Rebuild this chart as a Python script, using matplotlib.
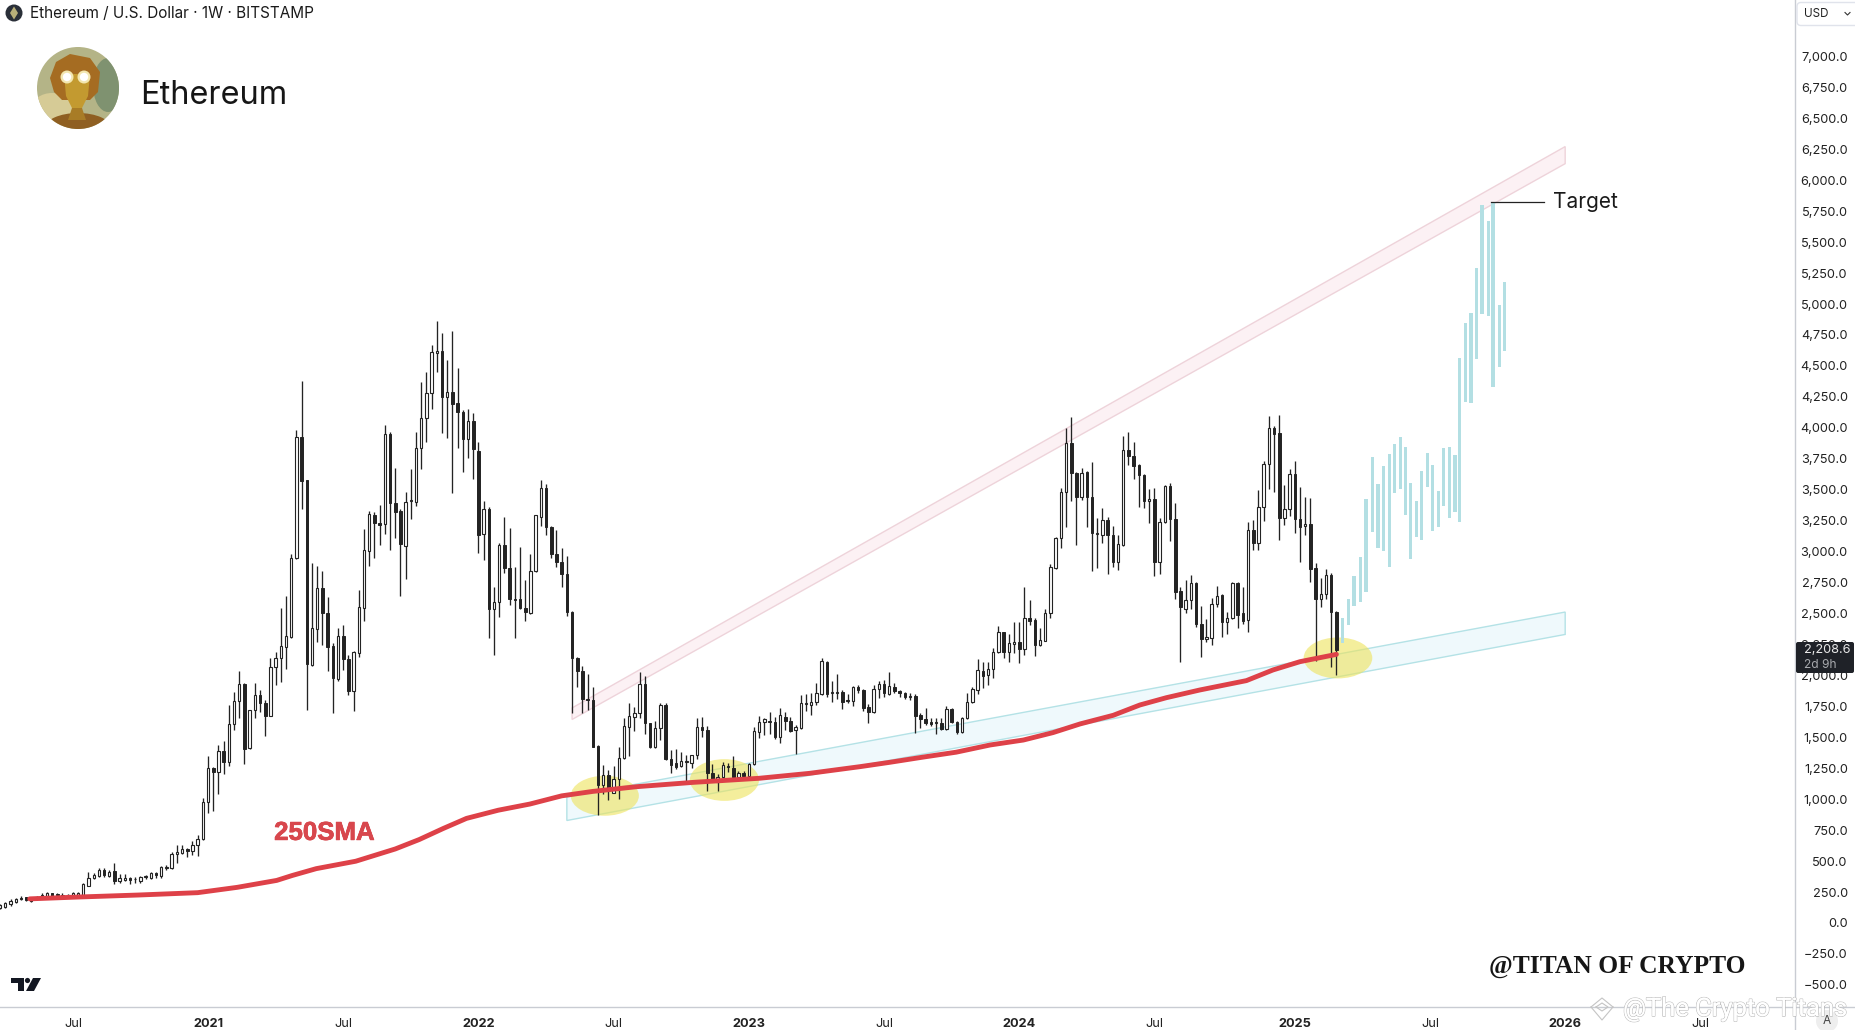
import matplotlib
matplotlib.use("Agg")
import matplotlib.pyplot as plt
import matplotlib.patheffects as pe
from matplotlib.patches import Circle, Ellipse, Polygon, FancyBboxPatch

plt.rcParams['font.family'] = ['Inter', 'DejaVu Sans']

# ---------- data: weekly candles, week 0 = first week of January 2021 ----------
first_week = -40
candle_open = [125,132,151,170,190,207,175,200,213,221,240,232,226,213,218,224,226,302,361,382,
 428,382,420,342,350,364,353,342,374,366,401,382,445,442,555,568,595,578,627,675,
 974,1249,1222,1386,1303,1604,1793,1930,1416,1720,1841,1774,1674,2065,2137,2232,2312,2945,3923,3578,
 2083,2372,2703,2501,2240,1970,2318,2129,1876,2178,2547,3007,3295,3233,3220,3950,3390,3328,3048,3410,
 3404,3834,4082,4284,4607,4623,4252,4292,4198,4128,3910,4058,3816,3140,3344,2536,2596,3053,2865,2617,
 2614,2542,2507,2846,3282,3511,3196,2978,2913,2819,2515,2138,2036,1809,1801,1430,1115,1195,1053,1160,
 1330,1586,1667,1694,1931,1613,1419,1572,1761,1322,1290,1268,1303,1295,1354,1580,1559,1209,1141,1182,
 1271,1255,1176,1209,1190,1284,1545,1626,1634,1624,1500,1667,1634,1559,1572,1769,1761,1788,1850,2111,
 1860,1860,1863,1796,1796,1909,1882,1742,1707,1890,1928,1850,1909,1877,1855,1828,1834,1680,1645,1626,
 1618,1613,1567,1726,1626,1543,1653,1782,1882,2038,2003,2054,2186,2348,2186,2251,2273,2211,2461,2448,
 2246,2281,2501,2865,3107,3479,3875,3633,3444,3641,3444,3140,3134,3255,3134,2919,3054,3821,3773,3700,
 3619,3406,3425,2919,3237,3530,3261,2682,2536,2609,2744,2415,2291,2299,2577,2647,2429,2461,2744,2501,
 2448,3175,3067,3358,3705,4001,3956,3269,3344,3627,3261,3207,3220,2865,2617,2655,2811,2512]
candle_high = [150,172,191,202,218,213,210,215,245,253,245,245,240,232,253,253,326,409,407,442,
 442,428,487,393,393,374,369,380,390,415,415,463,471,574,627,627,604,665,710,1007,
 1349,1262,1437,1472,1761,1865,2034,1936,1722,1936,1882,1801,2143,2191,2541,2641,2980,3982,4380,3580,
 2905,2883,2843,2630,2259,2380,2407,2164,2199,2689,3182,3328,3322,3376,4022,3969,3678,3341,3484,3670,
 3964,4370,4454,4669,4863,4764,4548,4782,4481,4144,4152,4117,3888,3409,3363,2717,3067,3277,3188,2878,
 3035,2771,2981,3296,3579,3544,3210,3175,3027,2965,2520,2145,2076,2011,1909,1435,1276,1236,1268,1419,
 1653,1780,1747,2025,1998,1618,1634,1780,1775,1397,1403,1379,1357,1357,1653,1667,1591,1284,1203,1303,
 1290,1349,1230,1228,1290,1580,1672,1653,1702,1667,1734,1702,1667,1599,1842,1847,1855,1936,2138,2116,
 1955,2009,1882,1850,1914,1923,1888,1769,1923,1957,1963,2025,1936,1882,1869,1861,1847,1694,1734,1653,
 1653,1653,1755,1734,1634,1660,1855,1909,2130,2111,2111,2219,2399,2352,2334,2434,2434,2712,2609,2462,
 2380,2534,2897,3121,3511,4001,4090,3645,3673,3650,3721,3269,3350,3277,3210,3134,3934,3964,3888,3708,
 3627,3503,3511,3269,3538,3552,3390,2717,2771,2811,2752,2563,2456,2623,2722,2655,2515,2752,2757,2717,
 3242,3256,3498,3735,4096,4015,4104,3538,3665,3735,3519,3439,3436,2911,2784,2857,2825,2520]
candle_low = [115,118,140,159,183,180,170,195,199,207,207,207,207,207,207,212,213,295,353,369,
 374,369,312,326,342,312,326,326,358,358,366,366,428,436,482,555,530,549,544,670,
 885,907,1039,1203,1271,1560,1653,1284,1408,1653,1706,1513,1672,1925,1949,2051,2299,2940,3341,1720,
 2078,2272,2245,2035,1693,1954,2043,1841,1715,2151,2442,2886,2945,3053,3142,3013,3112,2644,2778,3265,
 3371,3667,3888,4149,4454,3956,3915,3471,3834,3640,3754,3587,2986,2932,2299,2165,2474,2830,2569,2299,
 2538,2439,2500,2833,3210,3134,2946,2878,2717,2483,1694,1904,1699,1720,1420,872,1039,993,1047,1001,
 1325,1349,1554,1653,1524,1415,1412,1478,1317,1214,1241,1257,1150,1249,1322,1500,1069,1141,1069,1168,
 1222,1168,1155,1176,1183,1278,1497,1519,1524,1484,1457,1559,1540,1365,1567,1715,1680,1761,1842,1823,
 1788,1807,1729,1774,1755,1855,1712,1618,1699,1815,1828,1842,1861,1828,1809,1801,1537,1578,1599,1594,
 1527,1559,1559,1613,1524,1538,1648,1774,1850,1901,1923,1976,2178,2143,2111,2178,2098,2165,2407,2159,
 2238,2275,2466,2857,3032,3202,3412,3054,3417,3202,2846,2865,3067,2817,2878,2852,3048,3700,3584,3363,
 3350,3229,2806,2819,3230,3089,2617,2106,2501,2534,2394,2146,2267,2246,2550,2307,2332,2453,2380,2415,
 2353,3013,3013,3250,3503,3484,3094,3215,3291,3153,2919,3134,2752,2116,2550,2617,2071,2000]
candle_close = [142,159,178,191,205,186,200,210,229,245,218,223,218,226,240,240,312,361,388,428,
 388,415,342,361,361,347,358,369,380,406,385,455,450,557,574,598,582,627,675,974,
 1249,1222,1386,1303,1607,1793,1930,1408,1720,1841,1774,1674,2065,2137,2237,2318,2951,3923,3573,2089,
 2380,2703,2501,2232,1976,2318,2129,1876,2186,2549,3013,3301,3233,3217,3950,3395,3317,3058,3403,3417,
 3834,4077,4279,4610,4623,4252,4292,4190,4128,3910,4055,3829,3134,3342,2536,2590,3053,2865,2614,2612,
 2542,2510,2846,3296,3511,3196,2978,2913,2816,2515,2138,2038,1809,1804,1424,1115,1195,1088,1160,1330,
 1591,1672,1694,1931,1613,1419,1572,1761,1322,1276,1263,1311,1311,1354,1580,1559,1214,1163,1182,1276,
 1263,1176,1214,1190,1284,1553,1626,1645,1624,1500,1680,1634,1554,1580,1774,1774,1788,1855,2119,1850,
 1863,1863,1788,1801,1904,1882,1734,1707,1890,1928,1855,1914,1874,1855,1823,1834,1675,1648,1618,1605,
 1621,1567,1726,1621,1540,1653,1788,1887,2044,1998,2054,2186,2348,2186,2259,2273,2211,2461,2442,2246,
 2286,2501,2878,3107,3479,3875,3633,3444,3638,3444,3148,3148,3255,3134,2919,3062,3821,3773,3694,3619,
 3412,3425,2919,3237,3530,3261,2677,2550,2609,2744,2415,2291,2307,2577,2644,2429,2461,2744,2488,2442,
 3175,3067,3358,3708,3996,3948,3269,3344,3627,3261,3202,3223,2860,2617,2655,2811,2510,2208]

# projected bars drawn in light blue
proj_weeks = [218.1,219.3,220.4,221.6,222.7,223.9,225.0,226.0,227.2,228.1,229.3,230.3,231.2,232.4,233.4,
 234.5,235.5,236.7,237.6,238.8,239.8,240.7,241.9,242.9,244.0,245.0,246.2,247.1,248.3,249.3]
proj_high = [2464,2614,2802,2953,3422,3761,3546,3691,3785,3866,3923,3842,3557,3408,3651,
 3794,3697,3487,3834,3847,3780,4561,4844,4925,5288,5800,5671,5819,4992,5180]
proj_low = [2262,2407,2563,2595,2676,3155,3026,3007,2878,3470,3505,3295,2940,3115,3093,
 3524,3166,3201,3371,3274,3322,3236,4211,4197,4556,4919,4906,4332,4494,4620]

# 250-week simple moving average
sma_weeks = [-34.3,-24.8,-13.4,-2,5.6,13.2,16.2,20.8,28.4,36,40.6,45.2,49.7,55.8,61.9,68,74,82.4,93.3,
 106,115.7,125.4,131.1,137.5,143.9,150.4,156.8,162.5,167.7,174.1,179.2,184.3,190.7,199.7,204.8,210,217]
sma_values = [195,210,226,245,288,344,384,439,499,598,674,763,845,911,961,1027,1063,1101,1136,
 1169,1209,1263,1298,1340,1380,1438,1478,1538,1608,1678,1761,1820,1882,1958,2044,2111,2170]

# drawn channels (week, price) corners
resist_weeks = [70, 261, 261, 70]
resist_prices = [1737, 6272, 6134, 1644]
support_weeks = [69, 261, 261, 69]
support_prices = [1018, 2512, 2331, 828]

# highlighted touches
zone_weeks = [76.3, 99.3, 217.3]
zone_prices = [1028, 1155, 2141]
zone_w = [13.1, 13.3, 13.2]
zone_h = [323, 337, 331]

target_weeks = [246.8, 256.9]
target_price = 5827

price_ticks = list(range(-500, 7001, 250))
time_ticks = [-26, 0, 26, 52, 78, 104, 130, 156, 182, 209, 235, 261, 287]
time_labels = ['Jul', '2021', 'Jul', '2022', 'Jul', '2023', 'Jul', '2024', 'Jul', '2025', 'Jul', '2026', 'Jul']

last_price = '2,208.6'
countdown = '2d 9h'

# ---------- figure ----------
W, H = 1855, 1030
fig = plt.figure(figsize=(W / 100, H / 100), dpi=100, facecolor='white')
ax = fig.add_axes([0, (H - 1007) / H, 1795 / W, 1007 / H])
ax.set_xlim(-40.02, 305.2)
ax.set_ylim(-678.6, 7456)
for s in ax.spines.values():
    s.set_visible(False)

ax.fill(resist_weeks, resist_prices, facecolor='#fcf1f4', edgecolor='#eed3da', lw=1.0, zorder=1)
ax.fill(support_weeks, support_prices, facecolor='#eff9fc', edgecolor='#b4e2e6', lw=1.0, zorder=1)

for x, y, w, h in zip(zone_weeks, zone_prices, zone_w, zone_h):
    ax.add_patch(Ellipse((x, y), w, h, facecolor='#eee35a', alpha=0.6, edgecolor='none', zorder=2))

ax.bar(proj_weeks, [h - l for h, l in zip(proj_high, proj_low)], bottom=proj_low,
       width=0.62, color='#b3dfe3', linewidth=0, zorder=2.5)

weeks = [first_week + i for i in range(len(candle_open))]
ax.vlines(weeks, candle_low, candle_high, color='#232323', lw=0.95, zorder=3)
ups = [i for i in range(len(weeks)) if candle_close[i] >= candle_open[i]]
downs = [i for i in range(len(weeks)) if candle_close[i] < candle_open[i]]
ax.bar([weeks[i] for i in ups], [candle_close[i] - candle_open[i] for i in ups],
       bottom=[candle_open[i] for i in ups], width=0.46, facecolor='white',
       edgecolor='#232323', linewidth=0.8, zorder=4)
ax.bar([weeks[i] for i in downs], [candle_close[i] - candle_open[i] for i in downs],
       bottom=[candle_open[i] for i in downs], width=0.5, facecolor='#232323',
       edgecolor='#232323', linewidth=0.7, zorder=4)

ax.plot(sma_weeks, sma_values, color='#de4148', lw=3.5, solid_capstyle='round',
        solid_joinstyle='round', zorder=5)

ax.plot(target_weeks, [target_price, target_price], color='#222222', lw=0.9, zorder=5)
ax.text(258.6, target_price - 5, 'Target', fontsize=15.0, color='#1a1a1a', va='center', ha='left')
ax.text(12.7, 728, '250SMA', fontsize=18.6, fontweight='bold', color='#d8474d', family=['Liberation Sans'],
        va='center', ha='left', zorder=6,
        path_effects=[pe.withStroke(linewidth=0.5, foreground='#d8474d'), pe.Normal()])

ax.yaxis.tick_right()
ax.set_yticks(price_ticks)
ax.set_yticklabels([f'{p:,.1f}'.replace('-', '\u2212') for p in price_ticks], fontsize=9.2, color='#222222')
ax.tick_params(axis='y', length=0, pad=38)
for t in ax.get_yticklabels():
    t.set_ha('right')
ax.set_xticks(time_ticks)
ax.set_xticklabels(time_labels, fontsize=9.2, color='#222222')
ax.tick_params(axis='x', length=0, pad=8)
for t in ax.get_xticklabels():
    if t.get_text() != 'Jul':
        t.set_fontweight('bold')

# ---------- pixel-space overlay for the interface parts ----------
ov = fig.add_axes([0, 0, 1, 1], facecolor='none')
ov.set_xlim(0, W)
ov.set_ylim(H, 0)
ov.axis('off')

ov.plot([1795, 1795], [0, H], color='#c9ccd3', lw=1.0, zorder=1)
ov.plot([0, W], [1007, 1007], color='#c9ccd3', lw=1.0, zorder=1)

# header
ov.add_patch(Circle((14, 13), 8.5, facecolor='#2a2f38', edgecolor='none'))
ov.add_patch(Polygon([(14, 6.5), (18, 13), (14, 19.5), (10, 13)], facecolor='#b9b07a', edgecolor='none'))
ov.text(30, 14, 'Ethereum / U.S. Dollar \u00b7 1W \u00b7 BITSTAMP', fontsize=11.0, color='#1a1a1a', va='center', ha='left')
ov.text(140, 96, 'Ethereum', fontsize=23.4, color='#161616', va='center', ha='left')

# avatar
clip = Circle((78, 88), 41, transform=ov.transData)
ov.add_patch(Circle((78, 88), 41, facecolor='#b4b487', edgecolor='none'))
shapes = [
    Ellipse((108, 85), 30, 54, facecolor='#7f9270', edgecolor='none'),
    Ellipse((52, 108), 40, 30, facecolor='#d6cb96', edgecolor='none'),
    Ellipse((78, 128), 66, 30, facecolor='#8f5f22', edgecolor='none'),
    Polygon([(50, 78), (56, 62), (70, 54), (90, 58), (100, 72), (98, 92), (90, 100), (62, 100), (54, 92)],
            facecolor='#a56c22', edgecolor='none'),
    Polygon([(64, 74), (90, 74), (88, 96), (82, 108), (72, 108), (66, 96)], facecolor='#c39a30', edgecolor='none'),
    Polygon([(72, 108), (82, 108), (86, 120), (68, 120)], facecolor='#a87c26', edgecolor='none'),
    Circle((67, 77), 6.5, facecolor='#f3e7b0', edgecolor='none'),
    Circle((84, 77), 6.5, facecolor='#f3e7b0', edgecolor='none'),
    Circle((67, 77), 4.2, facecolor='white', edgecolor='none'),
    Circle((84, 77), 4.2, facecolor='white', edgecolor='none'),
]
for shape in shapes:
    ov.add_patch(shape)
    shape.set_clip_path(clip)

# TradingView mark
ov.add_patch(Polygon([(11, 978), (24, 978), (24, 991), (18, 991), (18, 983), (11, 983)], facecolor='#131722', edgecolor='none'))
ov.add_patch(Circle((27.5, 980.5), 2.6, facecolor='#131722', edgecolor='none'))
ov.add_patch(Polygon([(33, 978), (41, 978), (34, 991), (26, 991)], facecolor='#131722', edgecolor='none'))

# price scale extras
ov.add_patch(FancyBboxPatch((1797, 2.5), 70, 23, boxstyle='round,pad=0,rounding_size=4', facecolor='white', edgecolor='#e0e3eb', lw=1))
ov.text(1816, 14, 'USD', fontsize=8.4, color='#222222', va='center', ha='center')
ov.plot([1845, 1847.5, 1850], [12.5, 15, 12.5], color='#333333', lw=0.8)

ov.add_patch(FancyBboxPatch((1796, 642), 58, 31, boxstyle='round,pad=0,rounding_size=2', facecolor='#1f2228', edgecolor='none', zorder=3))
ov.text(1804, 650, last_price, fontsize=9.2, color='#e8e8e8', va='center', ha='left', zorder=4)
ov.text(1804, 664.5, countdown, fontsize=8.6, color='#a8aaae', va='center', ha='left', zorder=4)

ov.add_patch(Circle((1827, 1021), 11, facecolor='#eeeeee', edgecolor='none', zorder=2))
ov.text(1827, 1021, 'A', fontsize=8.6, color='#444444', va='center', ha='center', zorder=3)

# signature
ov.text(1489, 967, '@TITAN OF CRYPTO', fontsize=18.4, fontweight='bold', family=['Liberation Serif'],
        color='#161616', va='center', ha='left')

# watermark
ov.text(1623, 1009, '@The Crypto Titans', fontsize=18.4, family=['Roboto'], color='white', va='center', ha='left',
        zorder=6, path_effects=[pe.withStroke(linewidth=1.0, foreground='#bdbdbd'), pe.Normal()])
for pts in [[(1591, 1007), (1602, 998), (1613, 1007)], [(1596, 1007), (1602, 1003), (1608, 1007), (1602, 1011), (1596, 1007)],
            [(1591, 1007), (1602, 1020), (1613, 1007)]]:
    ov.plot([p[0] for p in pts], [p[1] for p in pts], color='#c4c4c4', lw=0.8, zorder=6)

fig.savefig('out.png', dpi=100, facecolor='white')
